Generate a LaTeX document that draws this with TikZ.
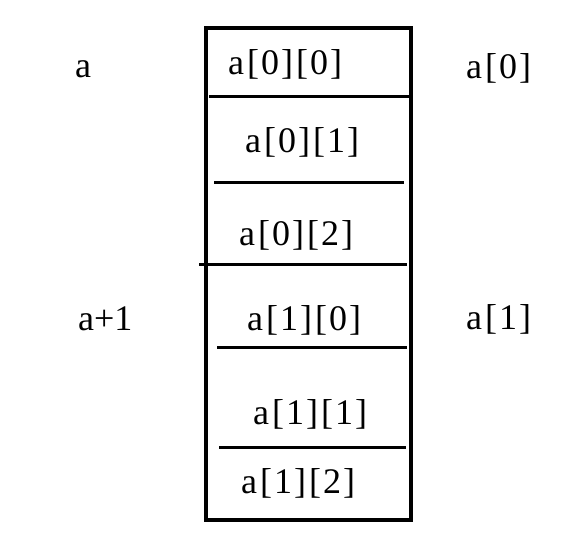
\documentclass[tikz,border=0pt]{standalone}
\usepackage{fontspec}
\setmainfont{Liberation Serif}
\newcommand{\ix}[1]{\kern3pt[\kern2pt#1\kern2pt]}
\tikzset{
  lbl/.style={anchor=base west, inner sep=0pt, font=\fontsize{36}{40}\selectfont},
  frame/.style={line width=4pt},
  sep/.style={line width=3pt}
}
\begin{document}
\begin{tikzpicture}[x=1pt,y=-1pt]
\useasboundingbox (0,0) rectangle (584,538);
\draw[frame] (206,28) rectangle (411,520);
\coordinate (d1a) at (209,96);  \coordinate (d1b) at (411,96);
\coordinate (d2a) at (214,182); \coordinate (d2b) at (404,182);
\coordinate (d3a) at (199,264); \coordinate (d3b) at (407,264);
\coordinate (d4a) at (217,347); \coordinate (d4b) at (407,347);
\coordinate (d5a) at (219,447); \coordinate (d5b) at (406,447);
\draw[sep] (d1a) -- (d1b);
\draw[sep] (d2a) -- (d2b);
\draw[sep] (d3a) -- (d3b);
\draw[sep] (d4a) -- (d4b);
\draw[sep] (d5a) -- (d5b);
\node[lbl] (e00) at (228,74) {a\ix{0}\ix{0}};
\node[lbl] (e01) at (245,152) {a\ix{0}\ix{1}};
\node[lbl] (e02) at (239,245) {a\ix{0}\ix{2}};
\node[lbl] (e10) at (247,330) {a\ix{1}\ix{0}};
\node[lbl] (e11) at (253,424) {a\ix{1}\ix{1}};
\node[lbl] (e12) at (241,493) {a\ix{1}\ix{2}};
\node[lbl] (pa) at (75,77) {a};
\node[lbl] (pa1) at (78,330) {a+1};
\node[lbl] (r0) at (466,78) {a\ix{0}};
\node[lbl] (r1) at (466,329) {a\ix{1}};
\end{tikzpicture}
\end{document}
